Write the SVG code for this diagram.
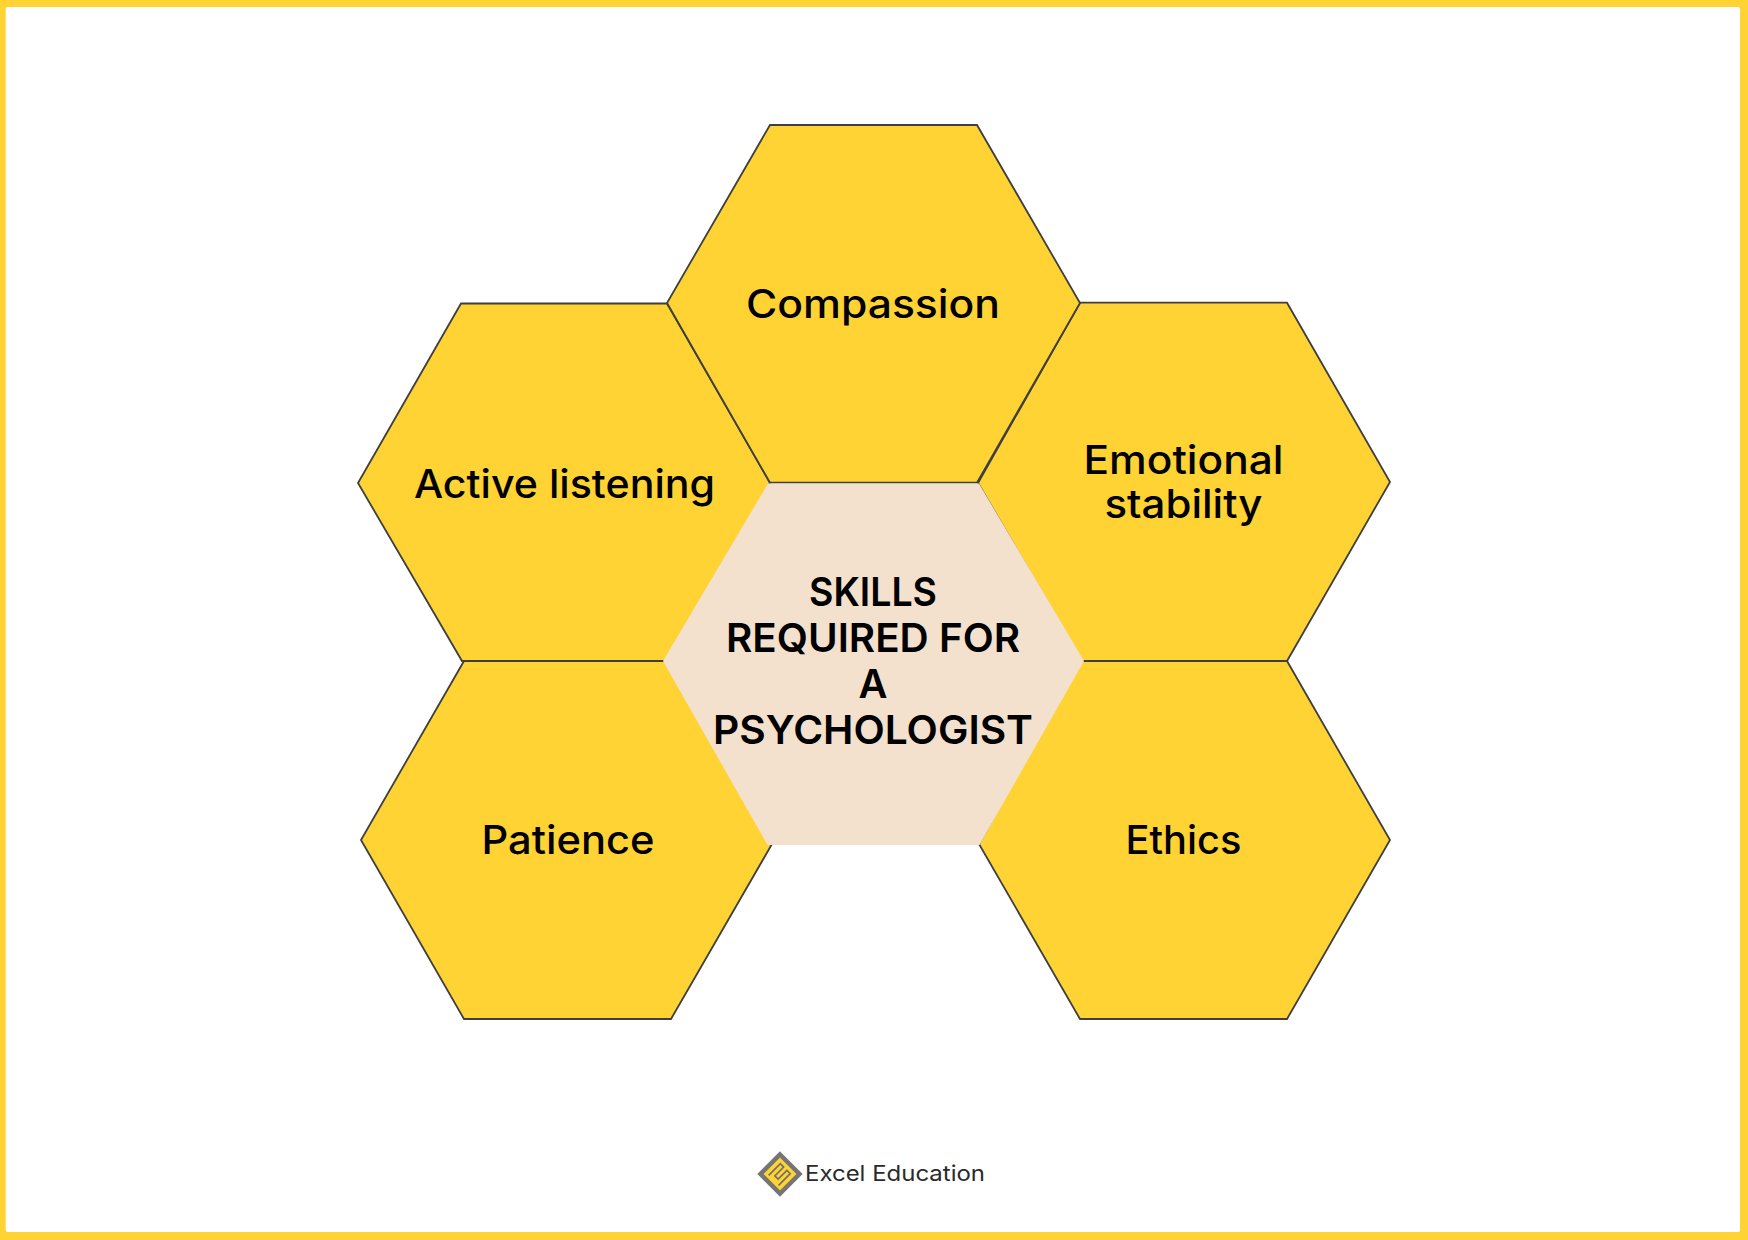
<svg xmlns="http://www.w3.org/2000/svg" width="1748" height="1240" viewBox="0 0 1748 1240">
<style>
.hex{fill:#fed333;stroke:#3f3f3f;stroke-width:1.8;stroke-linejoin:miter}
.core{fill:#f3e1cd}
.lbl{font-family:"Inter","Noto Sans",sans-serif;font-weight:500;font-size:39px;fill:#000;text-anchor:middle}
.ttl{font-family:"Inter","Noto Sans",sans-serif;font-weight:600;font-size:40px;fill:#000;text-anchor:middle}
.brand{font-family:"Inter","Lato",sans-serif;font-weight:400;font-size:21.5px;fill:#2a2a2a}
</style>
<rect width="1748" height="1240" fill="#fed333"/>
<rect x="5.7" y="7" width="1734.3" height="1225" rx="2" fill="#fff"/>
<g id="node-active-listening"><polygon class="hex" points="461,303.5 667,303.5 770,483 667,661 462,661 358,483"/><text class="lbl" x="564.5" y="497.5" textLength="301" lengthAdjust="spacingAndGlyphs">Active listening</text></g>
<g id="node-patience"><polygon class="hex" points="464,661 671,661 772,844 671,1019 464,1019 361,840"/><text class="lbl" x="568" y="853.5" textLength="173" lengthAdjust="spacingAndGlyphs">Patience</text></g>
<g id="node-ethics"><polygon class="hex" points="1080,661 1287,661 1390,840 1287,1019 1080,1019 979,844"/><text class="lbl" x="1183.5" y="853.5" textLength="116" lengthAdjust="spacingAndGlyphs">Ethics</text></g>
<g id="node-emotional-stability"><polygon class="hex" points="1080,302.7 1287,302.7 1390,482 1287,661 1082,661 978,483"/><text class="lbl" x="1183.5" y="473.5" textLength="200" lengthAdjust="spacingAndGlyphs">Emotional</text><text class="lbl" x="1183.5" y="517.5" textLength="158" lengthAdjust="spacingAndGlyphs">stability</text></g>
<g id="node-compassion"><polygon class="hex" points="770,125 977,125 1080,303 977,482.7 770,482.7 667,303"/><text class="lbl" x="873" y="317.5" textLength="254" lengthAdjust="spacingAndGlyphs">Compassion</text></g>
<g id="node-center"><polygon class="core" points="768,483.6 979,483.6 1084,661 979.5,845 767.5,845 663,661"/>
<text class="ttl" x="873" y="605.5" textLength="128" lengthAdjust="spacingAndGlyphs">SKILLS</text>
<text class="ttl" x="873" y="652" textLength="294" lengthAdjust="spacingAndGlyphs">REQUIRED FOR</text>
<text class="ttl" x="873" y="698" textLength="29" lengthAdjust="spacingAndGlyphs">A</text>
<text class="ttl" x="873" y="743.5" textLength="320" lengthAdjust="spacingAndGlyphs">PSYCHOLOGIST</text></g>
<g id="logo">
<polygon points="780,1154.5 799.5,1174 780,1193.5 760.5,1174" fill="#fed333" stroke="#757575" stroke-width="4.5"/>
<path transform="translate(780,1174) rotate(-45)" d="M-9,-7 H7.5 V-2.3 H-5 V2.3 H7.5 V7 H-9" fill="none" stroke="#6e6e6e" stroke-width="1.6"/>
<text class="brand" x="805" y="1181" textLength="180" lengthAdjust="spacingAndGlyphs">Excel Education</text>
</g>
</svg>
